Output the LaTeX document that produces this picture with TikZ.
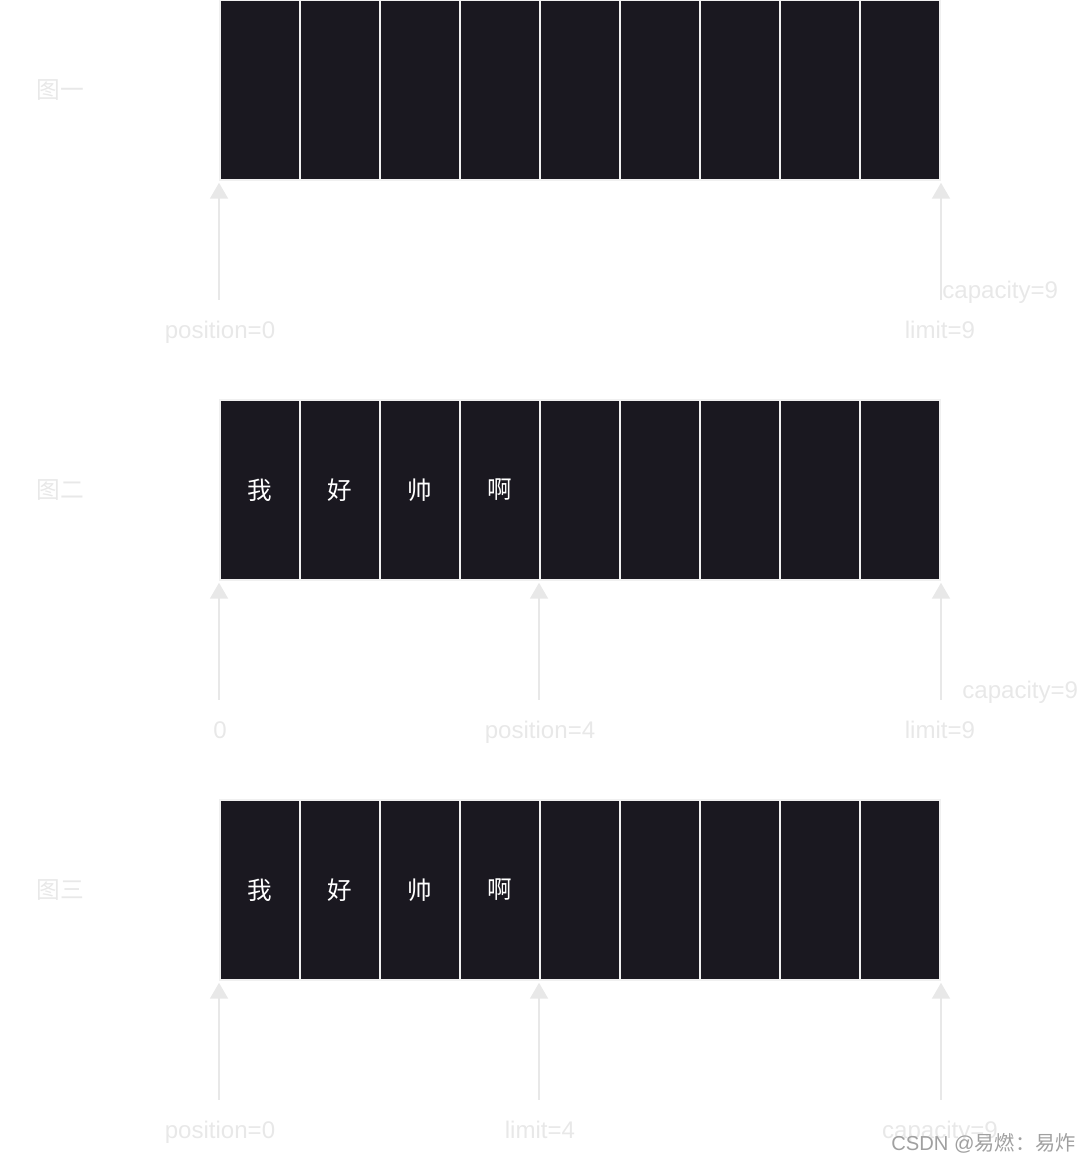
\documentclass[tikz,border=0pt]{standalone}
\usepackage{fontspec}
\setmainfont{Liberation Sans}
\newfontfamily\cjk{Noto Sans CJK SC}
\usepackage{xcolor}
\usetikzlibrary{arrows.meta}
\definecolor{cellfill}{HTML}{1A1820}
\definecolor{cellline}{HTML}{F0F0F0}
\definecolor{faint}{HTML}{E8E8E8}
\definecolor{markgray}{HTML}{A0A0A0}

\begin{document}
\begin{tikzpicture}[x=0.02cm,y=-0.02cm]%%buffer
        \tikzstyle{cell}   = [rectangle, draw=cellline, line width=0.04cm, fill=cellfill, minimum width=1.6cm, minimum height=3.6cm, inner sep=0pt, text=white, font=\cjk\fontsize{14}{14}\selectfont]
        \tikzstyle{rowlbl} = [text=faint, font=\cjk\fontsize{13.5}{14}\selectfont]
        \tikzstyle{lbl}    = [text=faint, inner sep=0pt, anchor=base, font=\fontsize{13.7}{14}\selectfont]
        \tikzstyle{ptr}    = [draw=faint, line width=0.04cm, -{Triangle[width=0.36cm,length=0.32cm]}, shorten >=1pt]
        \useasboundingbox (0,0) rectangle (1080,1162);

        % rows of cells
        \foreach \i in {1,...,9}
                \node [cell](c1-\i) at ({180+\i*80},90) {};
        \foreach \r/\y in {2/490,3/890}
        {
                \foreach \i/\w in {1/我,2/好,3/帅,4/啊,5/{},6/{},7/{},8/{},9/{}}
                        \node [cell](c\r-\i) at ({180+\i*80},\y) {\w};
        }
        \node [rowlbl](g1) at (60,90) {图一};
        \node [rowlbl](g2) at (60,490) {图二};
        \node [rowlbl](g3) at (60,890) {图三};

        % 图一
        \path (c1-1.south west) ++(0,119) coordinate (t1a);
        \path (c1-9.south east) ++(0,119) coordinate (t1b);
        \draw [ptr] (t1a) -- (c1-1.south west);
        \draw [ptr] (t1b) -- (c1-9.south east);
        \node [lbl](pos1) at (220,338) {position=0};
        \node [lbl](lim1) at (940,338) {limit=9};
        \node [lbl, anchor=base west](cap1) at (942,298) {capacity=9};

        % 图二
        \path (c2-1.south west) ++(0,119) coordinate (t2a);
        \path (c2-5.south west) ++(0,119) coordinate (t2b);
        \path (c2-9.south east) ++(0,119) coordinate (t2c);
        \draw [ptr] (t2a) -- (c2-1.south west);
        \draw [ptr] (t2b) -- (c2-5.south west);
        \draw [ptr] (t2c) -- (c2-9.south east);
        \node [lbl](zero2) at (220,738) {0};
        \node [lbl](pos2) at (540,738) {position=4};
        \node [lbl](lim2) at (940,738) {limit=9};
        \node [lbl, anchor=base west](cap2) at (962,698) {capacity=9};

        % 图三
        \path (c3-1.south west) ++(0,119) coordinate (t3a);
        \path (c3-5.south west) ++(0,119) coordinate (t3b);
        \path (c3-9.south east) ++(0,119) coordinate (t3c);
        \draw [ptr] (t3a) -- (c3-1.south west);
        \draw [ptr] (t3b) -- (c3-5.south west);
        \draw [ptr] (t3c) -- (c3-9.south east);
        \node [lbl](pos3) at (220,1138) {position=0};
        \node [lbl](lim3) at (540,1138) {limit=4};
        \node [lbl](cap3) at (940,1138) {capacity=9};

        \node [anchor=base east, inner sep=0pt, text=markgray, font=\fontsize{11.5}{12}\selectfont](mark) at (1076,1150) {CSDN @{\cjk 易燃：易炸}};
\end{tikzpicture}
\end{document}
